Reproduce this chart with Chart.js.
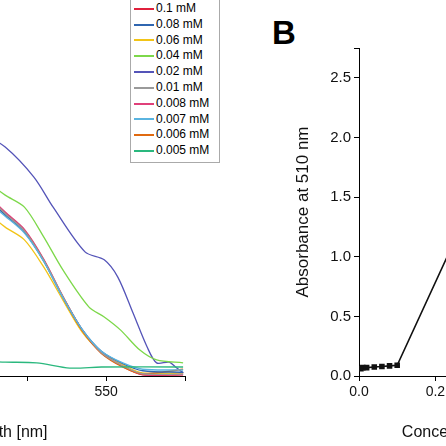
<!DOCTYPE html><html><head><script src="https://cdn.jsdelivr.net/npm/chart.js@4"></script>
<style>body{margin:0;width:446px;height:446px;overflow:hidden;position:relative;background:#fff;font-family:"Liberation Sans",Arial,sans-serif}
canvas{position:absolute}
#lg{position:absolute;left:130px;top:-3px;width:88px;border:1px solid #aaa;background:#fff;font-size:12px;padding:3px 0}
#lg div{height:15.8px;line-height:15.8px;white-space:nowrap}
#lg span{display:inline-block;width:20px;height:0;border-top:2px solid;vertical-align:middle;margin:0 2px 0 3px}
#B{position:absolute;left:272px;top:14px;font:bold 33px "Liberation Sans",Arial,sans-serif}
</style></head><body>
<div id="wrapA" style="position:absolute;left:-224px;top:0;width:412px;height:446px"><canvas id="a"></canvas></div>
<div id="lg"></div>
<div id="B">B</div>
<div style="position:absolute;left:289px;top:0;width:308px;height:446px"><canvas id="b"></canvas></div>
<script>
const labelsA=["0.1 mM","0.08 mM","0.06 mM","0.04 mM","0.02  mM","0.01 mM","0.008 mM","0.007 mM","0.006 mM","0.005 mM"];
const colorsA=["#e0203c","#2f66b0","#f2c417","#7dd84a","#5454b8","#9a9a9a","#e0407a","#5ab4e0","#e06a10","#2ab87e"];
const wlRed=[510,518,524.1,530.2,536.3,542.4,548.5,555.5,561.6,574.4];
const absRed=[0.5,0.434,0.388,0.309,0.210,0.122,0.061,0.024,0.003,0.003];
const absBlue8=[0.49,0.428,0.383,0.306,0.209,0.124,0.066,0.032,0.014,0.010];
const absGray=[0.5,0.432,0.386,0.308,0.211,0.123,0.062,0.026,0.006,0.005];
const absPink=[0.5,0.436,0.39,0.311,0.212,0.123,0.062,0.025,0.004,0.004];
const absLBlue=[0.48,0.425,0.38,0.305,0.208,0.124,0.066,0.034,0.018,0.016];
const absOrange=[0.49,0.430,0.385,0.307,0.209,0.121,0.060,0.023,0.006,0.018];
const wlYel=[510,518,524.1,530.2,536.3,542.4,548.5,556.7,561.6,574.4];
const absYel=[0.45,0.396,0.362,0.290,0.202,0.117,0.064,0.024,0.008,0.008];
const wlGrn=[510,518,524.1,530.2,536.3,544.5,549.4,554.6,560.7,566,574.4];
const absGrn=[0.53,0.481,0.449,0.370,0.282,0.184,0.157,0.122,0.069,0.043,0.035];
const wlPur=[510,518,527.1,533.2,543.3,549.4,553.7,558.5,563,566,570,572,574.5];
const absPur=[0.65,0.609,0.529,0.449,0.330,0.309,0.263,0.168,0.077,0.035,0.037,0.024,0.008];
const wlTeal=[510,518,528,538.5,548.5,574.4];
const absTeal=[0.04,0.037,0.035,0.021,0.024,0.024];
const concB=[0.005,0.01,0.02,0.04,0.06,0.08,0.1,0.3,0.5];
const absB=[0.06,0.07,0.07,0.075,0.08,0.085,0.09,1.48,2.3];

const pairs=[[wlRed,absRed],[wlRed,absBlue8],[wlYel,absYel],[wlGrn,absGrn],[wlPur,absPur],[wlRed,absGray],[wlRed,absPink],[wlRed,absLBlue],[wlRed,absOrange],[wlTeal,absTeal]];
const order=[9,7,5,1,8,6,0,2,3,4];
const ds=order.map(i=>({data:pairs[i][0].map((x,k)=>({x,y:pairs[i][1][k]})),borderColor:colorsA[i],borderWidth:1.3,pointRadius:0,tension:0.3}));
document.getElementById('lg').innerHTML=labelsA.map((l,i)=>`<div><span style="border-color:${colorsA[i]}"></span>${l}</div>`).join('');
const fit=h=>s=>{s.height=h};
new Chart(document.getElementById('a'),{type:'line',data:{datasets:ds},options:{responsive:true,maintainAspectRatio:false,animation:false,
layout:{padding:{left:0,right:2,top:0,bottom:0}},plugins:{legend:{display:false},tooltip:{enabled:false}},
scales:{x:{type:'linear',min:450,max:575,afterFit:fit(70),border:{color:'#000',width:1},grid:{drawOnChartArea:false,tickLength:5,color:'#000'},
ticks:{stepSize:25,color:'#111',font:{size:14},maxRotation:0,autoSkip:false,callback:v=>v%50===0?v:''},title:{display:true,text:'Wavelength [nm]',color:'#111',font:{size:16}}},
y:{display:false,min:0,max:1}}}});
new Chart(document.getElementById('b'),{type:'line',data:{datasets:[{data:concB.map((x,k)=>({x,y:absB[k]})),borderColor:'#111',backgroundColor:'#111',borderWidth:1.6,pointStyle:'rect',pointRadius:2.8,tension:0}]},
options:{responsive:true,maintainAspectRatio:false,animation:false,layout:{padding:{top:48,bottom:0,right:0}},plugins:{legend:{display:false},tooltip:{enabled:false}},
scales:{x:{type:'linear',min:0,max:0.59,afterFit:fit(70),border:{color:'#000'},grid:{drawOnChartArea:false,tickLength:5,color:'#000'},
ticks:{stepSize:0.2,color:'#111',font:{size:14},maxRotation:0,callback:v=>v.toFixed(1)},title:{display:true,text:'Concentration [mM]',color:'#111',font:{size:16}}},
y:{min:0,max:2.75,afterFit:s=>{s.width=70},border:{color:'#000'},grid:{drawOnChartArea:false,tickLength:5,color:'#000'},
ticks:{stepSize:0.5,color:'#111',font:{size:15},callback:v=>v>2.6?'':v.toFixed(1)},title:{display:true,text:'Absorbance at 510 nm',color:'#111',font:{size:17}}}}}});
</script></body></html>
